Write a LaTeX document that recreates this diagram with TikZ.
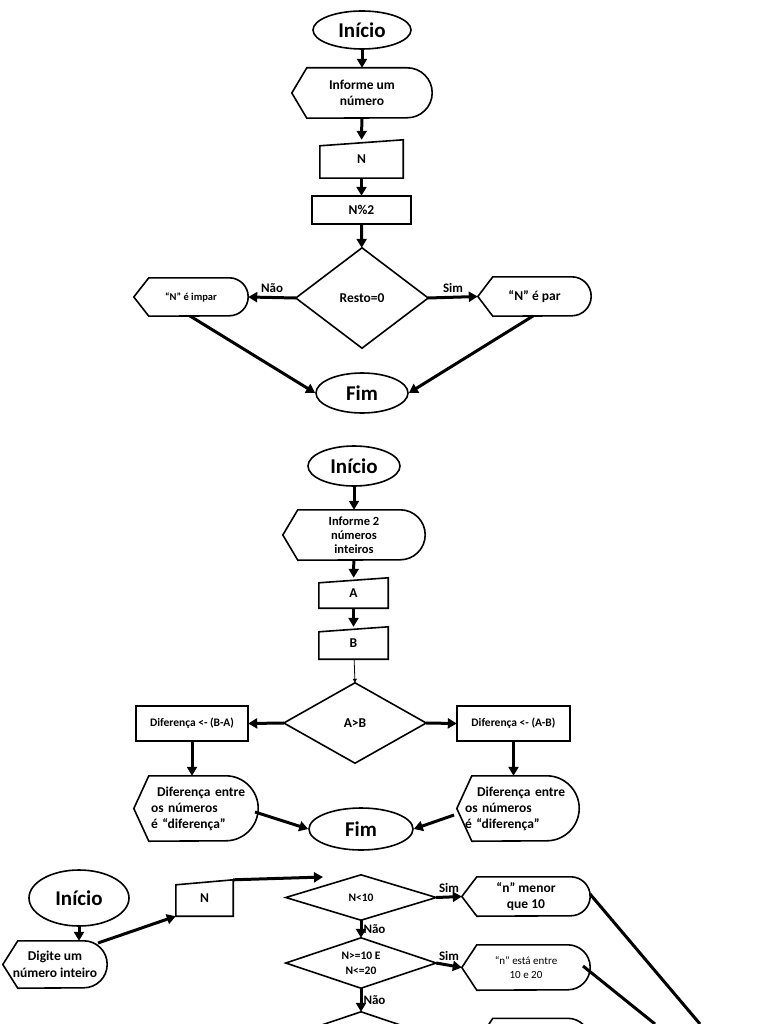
\documentclass[tikz,border=0pt]{standalone}
\usepackage{fontspec}
\setmainfont{Carlito}
\usetikzlibrary{arrows.meta,shapes.geometric}
\begin{document}
\begin{tikzpicture}[x=1pt,y=-1pt,
  box/.style={inner sep=0pt,align=center,font=\bfseries\fontsize{13.5}{16}\selectfont},
  term/.style={ellipse,draw,line width=1.6pt,inner sep=0pt,font=\bfseries\fontsize{21}{24}\selectfont},
  arr/.style={line width=3pt,-{Triangle[length=9pt,width=10pt]}},
  ln/.style={line width=3pt},
  lbl/.style={font=\bfseries\fontsize{13}{15}\selectfont},
  sh/.style={line width=1.6pt}]
\useasboundingbox (0,0) rectangle (768,1024);
\clip (0,0) rectangle (768,1024);
\newcommand\dsp[2]{\draw[sh] (#1.west) -- ([xshift=15pt]#1.north west) -- ([xshift=-#2pt]#1.north east) arc(90:-90:#2pt) -- ([xshift=15pt]#1.south west) -- cycle;}
\newcommand\man[2]{\draw[sh] (#1.south west) -- ([yshift=-#2pt]#1.north west) -- (#1.north east) -- (#1.south east) -- cycle;}
\newcommand\dia[1]{\draw[sh] (#1.north) -- (#1.east) -- (#1.south) -- (#1.west) -- cycle;}
\newcommand\rct[1]{\draw[sh] (#1.north west) rectangle (#1.south east);}
% ---------- chart 1
\node[term,minimum width=98pt,minimum height=38pt] (i1) at (362,30) {Início};
\node[box,minimum width=140pt,minimum height=50pt] (d1) at (362,93) {Informe um\\número}; \dsp{d1}{25}
\node[box,minimum width=83pt,minimum height=38pt] (n1) at (361.5,159) {N}; \man{n1}{6}
\node[box,minimum width=99pt,minimum height=28pt] (p1) at (361.5,210) {N\%2}; \rct{p1}
\node[box,minimum width=132pt,minimum height=100pt] (q1) at (362,298) {Resto=0}; \dia{q1}
\node[box,font=\bfseries\fontsize{10.5}{12}\selectfont,minimum width=114pt,minimum height=38pt] (im) at (191,297) {“N” é impar}; \dsp{im}{19}
\node[box,minimum width=113pt,minimum height=39pt] (pa) at (534.5,296.5) {“N” é par}; \dsp{pa}{19.5}
\node[term,minimum width=92pt,minimum height=40pt] (f1) at (362,393) {Fim};
\draw[arr] (i1) -- (d1);
\draw[arr] (d1) -- (n1);
\draw[arr] (n1) -- (p1);
\draw[arr] (p1) -- (q1);
\draw[arr] (q1.west) -- node[lbl,above]{Não} (im.east);
\draw[arr] (q1.east) -- node[lbl,above]{Sim} (pa.west);
\draw[arr] (190,316) -- (f1.west);
\draw[arr] (533,316) -- (f1.east);
% ---------- chart 2
\node[term,minimum width=92pt,minimum height=40pt] (i2) at (354,466) {Início};
\node[box,font=\bfseries\fontsize{12.5}{14}\selectfont,minimum width=142pt,minimum height=50pt] (d2) at (354,535) {Informe 2\\números\\inteiros}; \dsp{d2}{25}
\node[box,minimum width=69pt,minimum height=30pt] (a2) at (353.5,593) {A}; \man{a2}{5}
\node[box,minimum width=69pt,minimum height=32pt] (b2) at (353.5,643) {B}; \man{b2}{5}
\node[box,minimum width=142pt,minimum height=80pt] (q2) at (355,723) {A>B}; \dia{q2}
\node[box,font=\bfseries\fontsize{11.5}{13}\selectfont,minimum width=112pt,minimum height=35pt] (l2) at (192,723.5) {Diferença <- (B-A)}; \rct{l2}
\node[box,font=\bfseries\fontsize{11.5}{13}\selectfont,minimum width=113pt,minimum height=35pt] (r2) at (513.5,723.5) {Diferença <- (A-B)}; \rct{r2}
\node[box,minimum width=124pt,minimum height=65pt,text width=106pt,align=left] (ld) at (196,808.5) {\hspace*{14pt}Diferença entre\\\hspace*{8pt}os números\\\hspace*{8pt}é “diferença”}; \dsp{ld}{32.5}
\node[box,minimum width=122pt,minimum height=65pt,text width=106pt,align=left] (rd) at (518,808.5) {\hspace*{12pt}Diferença entre\\os números\\é “diferença”}; \dsp{rd}{32.5}
\node[term,minimum width=104pt,minimum height=42pt] (f2) at (361,829) {Fim};
\draw[arr] (i2) -- (d2);
\draw[arr] (d2) -- (a2);
\draw[arr] (a2) -- (b2);
\draw[line width=0.8pt,-{Triangle[length=4pt,width=4pt]}] (b2) -- (q2.north);
\draw[arr] (q2.west) -- (l2.east);
\draw[arr] (q2.east) -- (r2.west);
\draw[arr] (l2.south) -- (ld.north -| l2.south);
\draw[arr] (r2.south) -- (rd.north -| r2.south);
\draw[arr] (255,812) -- (f2.west);
\draw[arr] (454,815) -- (f2.east);
% ---------- chart 3
\node[term,minimum width=100pt,minimum height=56pt] (i3) at (79,898) {Início};
\node[box,font=\bfseries\fontsize{13.5}{17}\selectfont,minimum width=104pt,minimum height=47pt] (d3) at (55,964.5) {Digite um\\número inteiro}; \dsp{d3}{23.5}
\node[box,minimum width=57pt,minimum height=36pt] (n3) at (204.5,898) {N}; \man{n3}{5}
\node[box,font=\bfseries\fontsize{11.5}{14}\selectfont,minimum width=150pt,minimum height=45pt] (q3) at (361,897.5) {N<10}; \dia{q3}
\node[box,font=\bfseries\fontsize{11.5}{15}\selectfont,minimum width=150pt,minimum height=50pt] (q4) at (361,963) {N>=10 E\\N<=20}; \dia{q4}
\node[box,minimum width=150pt,minimum height=50pt] (q5) at (361,1037) {}; \dia{q5}
\node[box,minimum width=128pt,minimum height=39pt] (o1) at (526,896.5) {“n” menor\\que 10}; \dsp{o1}{19.5}
\node[box,font=\fontsize{11}{14}\selectfont,minimum width=128pt,minimum height=45pt] (o2) at (526,967.5) {“n” está entre\\10 e 20}; \dsp{o2}{22.5}
\node[box,minimum width=112pt,minimum height=45pt] (o3) at (534,1041) {}; \dsp{o3}{22.5}
\draw[arr] (i3) -- (d3.north -| i3);
\draw[arr] (98,943) -- (n3.south west);
\draw[arr] (n3.north east) -- (323,877);
\draw[arr] (q3.east) -- node[lbl,above]{Sim} (o1.west);
\draw[arr] (q4.east) -- node[lbl,above]{Sim} (o2.west);
\draw[arr] (q5.east) -- (o3.west);
\draw[arr] (q3.south) -- node[lbl,right,inner sep=1pt]{Não} (q4.north);
\draw[arr] (q4.south) -- node[lbl,right,inner sep=1pt]{Não} (q5.north);
\draw[ln] (590,894) -- (700,1024);
\draw[ln] (583,966) -- (655,1024);
\end{tikzpicture}
\end{document}
